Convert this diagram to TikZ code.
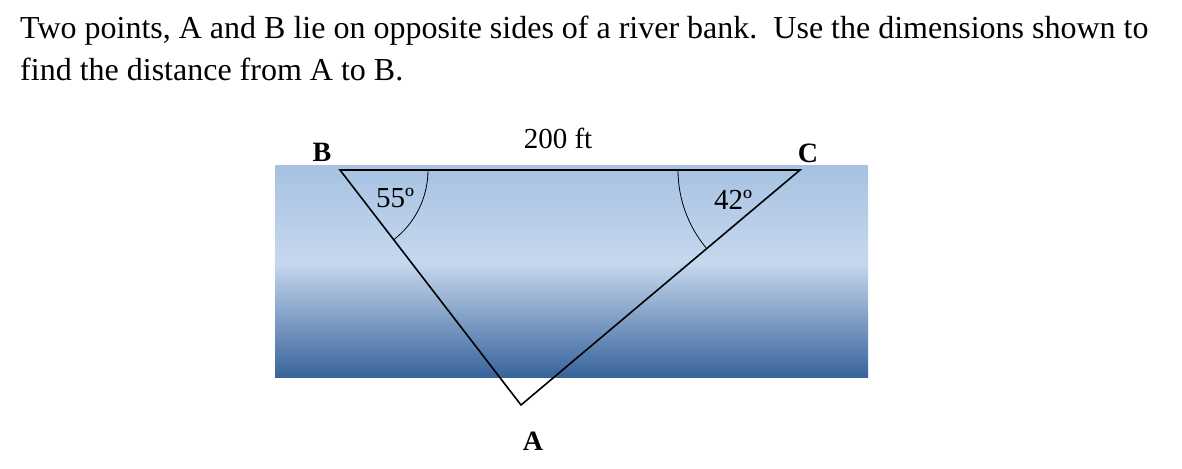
\documentclass[tikz,border=0pt]{standalone}
\usepackage{fontspec}
\setmainfont{Liberation Serif}
\begin{document}
\begin{tikzpicture}[x=1pt,y=-1pt,
  lbl/.style={inner sep=0pt,font=\fontsize{29}{32}\selectfont},
  vlbl/.style={inner sep=0pt,font=\fontsize{28}{32}\selectfont\bfseries}]
\useasboundingbox (0,0) rectangle (1182,468);
\shade[top color={rgb,255:red,166;green,194;blue,226},bottom color={rgb,255:red,198;green,216;blue,238}] (275,165) rectangle (868,262);
\shade[top color={rgb,255:red,198;green,216;blue,238},bottom color={rgb,255:red,56;green,100;blue,156}] (275,262) rectangle (868,377);
\node[anchor=west,inner sep=0pt,font=\fontsize{32}{36}\selectfont] (l1) at (20,31) {Two points, A and B lie on opposite sides of a river bank.\ \ Use the dimensions shown to};
\node[anchor=west,inner sep=0pt,font=\fontsize{32}{36}\selectfont] (l2) at (20,69) {find the distance from A to B.};
\coordinate (B) at (340,170);
\coordinate (C) at (800,170);
\coordinate (A) at (521,405);
\draw[line width=1.6pt,line join=miter] (B) -- (C) -- (A) -- cycle;
\draw[line width=0.8pt] (B) ++(88,0) arc[start angle=0,end angle=52.4,radius=88];
\draw[line width=0.8pt] (C) ++(-122,0) arc[start angle=180,end angle=139.9,radius=122];
\node[lbl] (a55) at (395,198) {55º};
\node[lbl] (a42) at (733,200) {42º};
\node[lbl] (len) at (558,138) {200 ft};
\node[vlbl] (nB) at (322,152) {B};
\node[vlbl] (nC) at (808,153) {C};
\node[vlbl] (nA) at (533,441) {A};
\end{tikzpicture}
\end{document}
